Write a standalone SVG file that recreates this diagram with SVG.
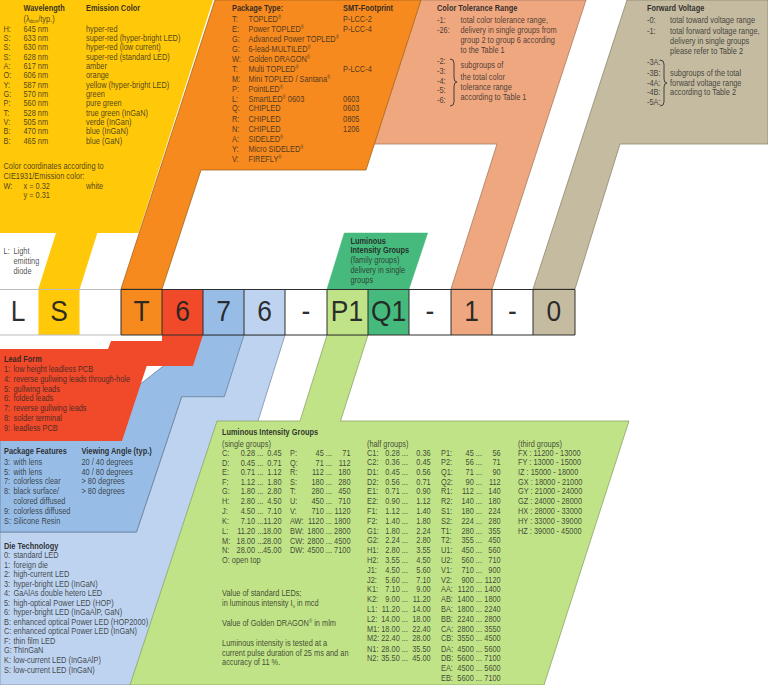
<svg xmlns="http://www.w3.org/2000/svg" width="768" height="685" viewBox="0 0 768 685">
<style>
text{font-family:"Liberation Sans",Arial,sans-serif;font-size:8.4px;fill:#222;fill-opacity:.8}
.b{font-weight:bold;fill-opacity:.92}
.e{text-anchor:end}
.s{font-size:5px}
.big{font-size:30px;text-anchor:middle;fill-opacity:.95}
.p{stroke-width:.8}
.br{fill:none;stroke:#333;stroke-width:.9}
.cell{stroke:#2e2e2e;stroke-width:1}
</style>
<rect width="768" height="685" fill="#fff"/>
<g id="lightblue-die-technology">
<polygon class="p" points="244,335 285,335 258,421 130,685 0,685 0,532 136.5,532 181.7,396.7" fill="#bdd3ef" stroke="#7f8fa5"/>
<g transform="scale(.88 1)">
<text class="b" x="4.5" y="549">Die Technology</text>
<text y="558.5"><tspan x="4.5">0:</tspan><tspan x="15.3">standard LED</tspan></text>
<text y="568.5"><tspan x="4.5">1:</tspan><tspan x="15.3">foreign die</tspan></text>
<text y="577.5"><tspan x="4.5">2:</tspan><tspan x="15.3">high-current LED</tspan></text>
<text y="587"><tspan x="4.5">3:</tspan><tspan x="15.3">hyper-bright LED (InGaN)</tspan></text>
<text y="596.5"><tspan x="4.5">4:</tspan><tspan x="15.3">GaAlAs double hetero LED</tspan></text>
<text y="606"><tspan x="4.5">5:</tspan><tspan x="15.3">high-optical Power LED (HOP)</tspan></text>
<text y="615"><tspan x="4.5">6:</tspan><tspan x="15.3">hyper-bright LED (InGaAlP, GaN)</tspan></text>
<text y="625"><tspan x="4.5">B:</tspan><tspan x="15.3">enhanced optical Power LED (HOP2000)</tspan></text>
<text y="634"><tspan x="4.5">C:</tspan><tspan x="15.3">enhanced optical Power LED (InGaN)</tspan></text>
<text y="644"><tspan x="4.5">F:</tspan><tspan x="15.3">thin film LED</tspan></text>
<text y="653.5"><tspan x="4.5">G:</tspan><tspan x="15.3">ThInGaN</tspan></text>
<text y="663"><tspan x="4.5">K:</tspan><tspan x="15.3">low-current LED (InGaAlP)</tspan></text>
<text y="673"><tspan x="4.5">S:</tspan><tspan x="15.3">low-current LED (InGaN)</tspan></text>
</g>
</g>
<g id="blue-package-features">
<polygon class="p" points="203,335 244,335 224.3,396.7 181.7,396.7 136.5,532 0,532 0,400 120,400" fill="#97bde7" stroke="#66809c"/>
<g transform="scale(.88 1)">
<text class="b" x="4.5" y="454">Package Features</text>
<text class="b" x="92.6" y="454">Viewing Angle (typ.)</text>
<text y="465"><tspan x="4.5">3:</tspan><tspan x="15.3">with lens</tspan><tspan x="92.6">20 / 40 degrees</tspan></text>
<text y="475"><tspan x="4.5">5:</tspan><tspan x="15.3">with lens</tspan><tspan x="92.6">40 / 80 degrees</tspan></text>
<text y="484"><tspan x="4.5">7:</tspan><tspan x="15.3">colorless clear</tspan><tspan x="92.6">&gt; 80 degrees</tspan></text>
<text y="494"><tspan x="4.5">8:</tspan><tspan x="15.3">black surface/</tspan><tspan x="92.6">&gt; 80 degrees</tspan></text>
<text x="15.3" y="504">colored diffused</text>
<text y="514"><tspan x="4.5">9:</tspan><tspan x="15.3">colorless diffused</tspan></text>
<text y="524"><tspan x="4.5">S:</tspan><tspan x="15.3">Silicone Resin</tspan></text>
</g>
</g>
<g id="red-lead-form">
<polygon class="p" points="162,335 203,335 193,366 146.7,366 122,441 0,441 0,349 108,349 111,341 162,341" fill="#f04a2a"/>
<g transform="scale(.88 1)">
<text class="b" x="4.5" y="362">Lead Form</text>
<text y="372"><tspan x="4.5">1:</tspan><tspan x="15.3">low height leadless PCB</tspan></text>
<text y="382"><tspan x="4.5">4:</tspan><tspan x="15.3">reverse gullwing leads through-hole</tspan></text>
<text y="392"><tspan x="4.5">5:</tspan><tspan x="15.3">gullwing leads</tspan></text>
<text y="401.5"><tspan x="4.5">6:</tspan><tspan x="15.3">folded leads</tspan></text>
<text y="411.5"><tspan x="4.5">7:</tspan><tspan x="15.3">reverse gullwing leads</tspan></text>
<text y="421"><tspan x="4.5">8:</tspan><tspan x="15.3">solder terminal</tspan></text>
<text y="431"><tspan x="4.5">9:</tspan><tspan x="15.3">leadless PCB</tspan></text>
</g>
</g>
<g id="green-luminous-intensity">
<polygon class="p" points="327,335 368,335 340.5,421 629,421 544,685 130,685 217,421 300,421" fill="#bfe386" stroke="#8da56a"/>
<g transform="scale(.88 1)">
<text class="b" x="252.3" y="435">Luminous Intensity Groups</text>
<text x="252.3" y="447">(single groups)</text>
<text y="456.5"><tspan x="252.3">C:</tspan><tspan class="e" x="299.2">0.28 ...</tspan><tspan class="e" x="319.9">0.45</tspan><tspan x="329.5">P:</tspan><tspan class="e" x="377.3">45 ...</tspan><tspan class="e" x="398.3">71</tspan></text>
<text y="466"><tspan x="252.3">D:</tspan><tspan class="e" x="299.2">0.45 ...</tspan><tspan class="e" x="319.9">0.71</tspan><tspan x="329.5">Q:</tspan><tspan class="e" x="377.3">71 ...</tspan><tspan class="e" x="398.3">112</tspan></text>
<text y="475"><tspan x="252.3">E:</tspan><tspan class="e" x="299.2">0.71 ...</tspan><tspan class="e" x="319.9">1.12</tspan><tspan x="329.5">R:</tspan><tspan class="e" x="377.3">112 ...</tspan><tspan class="e" x="398.3">180</tspan></text>
<text y="485"><tspan x="252.3">F:</tspan><tspan class="e" x="299.2">1.12 ...</tspan><tspan class="e" x="319.9">1.80</tspan><tspan x="329.5">S:</tspan><tspan class="e" x="377.3">180 ...</tspan><tspan class="e" x="398.3">280</tspan></text>
<text y="494.5"><tspan x="252.3">G:</tspan><tspan class="e" x="299.2">1.80 ...</tspan><tspan class="e" x="319.9">2.80</tspan><tspan x="329.5">T:</tspan><tspan class="e" x="377.3">280 ...</tspan><tspan class="e" x="398.3">450</tspan></text>
<text y="504"><tspan x="252.3">H:</tspan><tspan class="e" x="299.2">2.80 ...</tspan><tspan class="e" x="319.9">4.50</tspan><tspan x="329.5">U:</tspan><tspan class="e" x="377.3">450 ...</tspan><tspan class="e" x="398.3">710</tspan></text>
<text y="514"><tspan x="252.3">J:</tspan><tspan class="e" x="299.2">4.50 ...</tspan><tspan class="e" x="319.9">7.10</tspan><tspan x="329.5">V:</tspan><tspan class="e" x="377.3">710 ...</tspan><tspan class="e" x="398.3">1120</tspan></text>
<text y="524"><tspan x="252.3">K:</tspan><tspan class="e" x="299.2">7.10 ...</tspan><tspan class="e" x="319.9">11.20</tspan><tspan x="329.5">AW:</tspan><tspan class="e" x="377.3">1120 ...</tspan><tspan class="e" x="398.3">1800</tspan></text>
<text y="534"><tspan x="252.3">L:</tspan><tspan class="e" x="299.2">11.20 ...</tspan><tspan class="e" x="319.9">18.00</tspan><tspan x="329.5">BW:</tspan><tspan class="e" x="377.3">1800 ...</tspan><tspan class="e" x="398.3">2800</tspan></text>
<text y="544"><tspan x="252.3">M:</tspan><tspan class="e" x="299.2">18.00 ...</tspan><tspan class="e" x="319.9">28.00</tspan><tspan x="329.5">CW:</tspan><tspan class="e" x="377.3">2800 ...</tspan><tspan class="e" x="398.3">4500</tspan></text>
<text y="553.5"><tspan x="252.3">N:</tspan><tspan class="e" x="299.2">28.00 ...</tspan><tspan class="e" x="319.9">45.00</tspan><tspan x="329.5">DW:</tspan><tspan class="e" x="377.3">4500 ...</tspan><tspan class="e" x="398.3">7100</tspan></text>
<text x="252.3" y="563.5">O: open top</text>
<text x="252.3" y="596.5">Value of standard LEDs;</text>
<text x="252.3" y="606.5">in luminous intensity I<tspan class="s" dy="1.5">v</tspan><tspan dy="-1.5"> in mcd</tspan></text>
<text x="252.3" y="626">Value of Golden DRAGON<tspan class="s" dy="-2.5">®</tspan><tspan dy="2.5"> in mlm</tspan></text>
<text x="252.3" y="646">Luminous intensity is tested at a</text>
<text x="252.3" y="656">current pulse duration of 25 ms and an</text>
<text x="252.3" y="665.5">accuracy of 11 %.</text>
<text x="417" y="447">(half groups)</text>
<text y="456"><tspan x="417">C1:</tspan><tspan class="e" x="463.6">0.28 ...</tspan><tspan class="e" x="489.4">0.36</tspan><tspan x="501.1">P1:</tspan><tspan class="e" x="547.7">45 ...</tspan><tspan class="e" x="569">56</tspan></text>
<text y="465.5"><tspan x="417">C2:</tspan><tspan class="e" x="463.6">0.36 ...</tspan><tspan class="e" x="489.4">0.45</tspan><tspan x="501.1">P2:</tspan><tspan class="e" x="547.7">56 ...</tspan><tspan class="e" x="569">71</tspan></text>
<text y="475"><tspan x="417">D1:</tspan><tspan class="e" x="463.6">0.45 ...</tspan><tspan class="e" x="489.4">0.56</tspan><tspan x="501.1">Q1:</tspan><tspan class="e" x="547.7">71 ...</tspan><tspan class="e" x="569">90</tspan></text>
<text y="485"><tspan x="417">D2:</tspan><tspan class="e" x="463.6">0.56 ...</tspan><tspan class="e" x="489.4">0.71</tspan><tspan x="501.1">Q2:</tspan><tspan class="e" x="547.7">90 ...</tspan><tspan class="e" x="569">112</tspan></text>
<text y="494.5"><tspan x="417">E1:</tspan><tspan class="e" x="463.6">0.71 ...</tspan><tspan class="e" x="489.4">0.90</tspan><tspan x="501.1">R1:</tspan><tspan class="e" x="547.7">112 ...</tspan><tspan class="e" x="569">140</tspan></text>
<text y="504"><tspan x="417">E2:</tspan><tspan class="e" x="463.6">0.90 ...</tspan><tspan class="e" x="489.4">1.12</tspan><tspan x="501.1">R2:</tspan><tspan class="e" x="547.7">140 ...</tspan><tspan class="e" x="569">180</tspan></text>
<text y="514"><tspan x="417">F1:</tspan><tspan class="e" x="463.6">1.12 ...</tspan><tspan class="e" x="489.4">1.40</tspan><tspan x="501.1">S1:</tspan><tspan class="e" x="547.7">180 ...</tspan><tspan class="e" x="569">224</tspan></text>
<text y="524"><tspan x="417">F2:</tspan><tspan class="e" x="463.6">1.40 ...</tspan><tspan class="e" x="489.4">1.80</tspan><tspan x="501.1">S2:</tspan><tspan class="e" x="547.7">224 ...</tspan><tspan class="e" x="569">280</tspan></text>
<text y="534"><tspan x="417">G1:</tspan><tspan class="e" x="463.6">1.80 ...</tspan><tspan class="e" x="489.4">2.24</tspan><tspan x="501.1">T1:</tspan><tspan class="e" x="547.7">280 ...</tspan><tspan class="e" x="569">355</tspan></text>
<text y="543"><tspan x="417">G2:</tspan><tspan class="e" x="463.6">2.24 ...</tspan><tspan class="e" x="489.4">2.80</tspan><tspan x="501.1">T2:</tspan><tspan class="e" x="547.7">355 ...</tspan><tspan class="e" x="569">450</tspan></text>
<text y="553.5"><tspan x="417">H1:</tspan><tspan class="e" x="463.6">2.80 ...</tspan><tspan class="e" x="489.4">3.55</tspan><tspan x="501.1">U1:</tspan><tspan class="e" x="547.7">450 ...</tspan><tspan class="e" x="569">560</tspan></text>
<text y="563"><tspan x="417">H2:</tspan><tspan class="e" x="463.6">3.55 ...</tspan><tspan class="e" x="489.4">4.50</tspan><tspan x="501.1">U2:</tspan><tspan class="e" x="547.7">560 ...</tspan><tspan class="e" x="569">710</tspan></text>
<text y="573"><tspan x="417">J1:</tspan><tspan class="e" x="463.6">4.50 ...</tspan><tspan class="e" x="489.4">5.60</tspan><tspan x="501.1">V1:</tspan><tspan class="e" x="547.7">710 ...</tspan><tspan class="e" x="569">900</tspan></text>
<text y="583"><tspan x="417">J2:</tspan><tspan class="e" x="463.6">5.60 ...</tspan><tspan class="e" x="489.4">7.10</tspan><tspan x="501.1">V2:</tspan><tspan class="e" x="547.7">900 ...</tspan><tspan class="e" x="569">1120</tspan></text>
<text y="592.5"><tspan x="417">K1:</tspan><tspan class="e" x="463.6">7.10 ...</tspan><tspan class="e" x="489.4">9.00</tspan><tspan x="501.1">AA:</tspan><tspan class="e" x="547.7">1120 ...</tspan><tspan class="e" x="569">1400</tspan></text>
<text y="602.5"><tspan x="417">K2:</tspan><tspan class="e" x="463.6">9.00 ...</tspan><tspan class="e" x="489.4">11.20</tspan><tspan x="501.1">AB:</tspan><tspan class="e" x="547.7">1400 ...</tspan><tspan class="e" x="569">1800</tspan></text>
<text y="612.5"><tspan x="417">L1:</tspan><tspan class="e" x="463.6">11.20 ...</tspan><tspan class="e" x="489.4">14.00</tspan><tspan x="501.1">BA:</tspan><tspan class="e" x="547.7">1800 ...</tspan><tspan class="e" x="569">2240</tspan></text>
<text y="622"><tspan x="417">L2:</tspan><tspan class="e" x="463.6">14.00 ...</tspan><tspan class="e" x="489.4">18.00</tspan><tspan x="501.1">BB:</tspan><tspan class="e" x="547.7">2240 ...</tspan><tspan class="e" x="569">2800</tspan></text>
<text y="632"><tspan x="417">M1:</tspan><tspan class="e" x="463.6">18.00 ...</tspan><tspan class="e" x="489.4">22.40</tspan><tspan x="501.1">CA:</tspan><tspan class="e" x="547.7">2800 ...</tspan><tspan class="e" x="569">3550</tspan></text>
<text y="641.5"><tspan x="417">M2:</tspan><tspan class="e" x="463.6">22.40 ...</tspan><tspan class="e" x="489.4">28.00</tspan><tspan x="501.1">CB:</tspan><tspan class="e" x="547.7">3550 ...</tspan><tspan class="e" x="569">4500</tspan></text>
<text y="652"><tspan x="417">N1:</tspan><tspan class="e" x="463.6">28.00 ...</tspan><tspan class="e" x="489.4">35.50</tspan><tspan x="501.1">DA:</tspan><tspan class="e" x="547.7">4500 ...</tspan><tspan class="e" x="569">5600</tspan></text>
<text y="661"><tspan x="417">N2:</tspan><tspan class="e" x="463.6">35.50 ...</tspan><tspan class="e" x="489.4">45.00</tspan><tspan x="501.1">DB:</tspan><tspan class="e" x="547.7">5600 ...</tspan><tspan class="e" x="569">7100</tspan></text>
<text y="671"><tspan x="501.1">EA:</tspan><tspan class="e" x="547.7">4500 ...</tspan><tspan class="e" x="569">5600</tspan></text>
<text y="681"><tspan x="501.1">EB:</tspan><tspan class="e" x="547.7">5600 ...</tspan><tspan class="e" x="569">7100</tspan></text>
<text x="588.6" y="447">(third groups)</text>
<text x="588.6" y="456">FX : 11200 - 13000</text>
<text x="588.6" y="465.5">FY : 13000 - 15000</text>
<text x="588.6" y="475">IZ  : 15000 - 18000</text>
<text x="588.6" y="485">GX : 18000 - 21000</text>
<text x="588.6" y="494.5">GY : 21000 - 24000</text>
<text x="588.6" y="504">GZ : 24000 - 28000</text>
<text x="588.6" y="514">HX : 28000 - 33000</text>
<text x="588.6" y="524">HY : 33000 - 39000</text>
<text x="588.6" y="534">HZ : 39000 - 45000</text>
</g>
</g>
<g id="tan-forward-voltage">
<polygon class="p" points="627,0 768,0 768,144 620,144 575,289 533,289" fill="#c4bba0" stroke="#8f886f"/>
<g transform="scale(.88 1)">
<text class="b" x="735.2" y="11">Forward Voltage</text>
<text y="23"><tspan x="735.2">-0:</tspan><tspan x="761.4">total toward voltage range</tspan></text>
<text y="34"><tspan x="735.2">-1:</tspan><tspan x="761.4">total forward voltage range,</tspan></text>
<text x="761.4" y="44">delivery in single groups</text>
<text x="761.4" y="54">please refer to Table 2</text>
<text x="735.2" y="65.5">-3A:</text>
<text y="76"><tspan x="735.2">-3B:</tspan><tspan x="761.4">subgroups of the total</tspan></text>
<text y="86"><tspan x="735.2">-4A:</tspan><tspan x="761.4">forward voltage range</tspan></text>
<text y="95.5"><tspan x="735.2">-4B:</tspan><tspan x="761.4">according to Table 2</tspan></text>
<text x="735.2" y="105.5">-5A:</text>
</g>
<path class="br" d="M660,60 Q664,60 664,64 V79 Q664,83 667,83 Q664,83 664,87 V102 Q664,106 660,106"/>
</g>
<g id="salmon-color-tolerance">
<polygon class="p" points="400,0 586,0 492,289 451,289 497,144 370,144" fill="#efa77f" stroke="#a87a5f"/>
<g transform="scale(.88 1)">
<text class="b" x="496.6" y="11">Color Tolerance Range</text>
<text y="23"><tspan x="496.6">-1:</tspan><tspan x="523.3">total color tolerance range,</tspan></text>
<text y="33"><tspan x="496.6">-26:</tspan><tspan x="523.3">delivery in single groups from</tspan></text>
<text x="523.3" y="43">group 2 to group 6 according</text>
<text x="523.3" y="53">to the Table 1</text>
<text x="496.6" y="64">-2:</text>
<text x="496.6" y="74">-3:</text>
<text x="496.6" y="84">-4:</text>
<text x="496.6" y="93">-5:</text>
<text x="496.6" y="103">-6:</text>
<text x="523.3" y="68">subgroups of</text>
<text x="523.3" y="80">the total color</text>
<text x="523.3" y="90">tolerance range</text>
<text x="523.3" y="100">according to Table 1</text>
</g>
<path class="br" d="M450,59 Q454,59 454,63 V78 Q454,82 457,82 Q454,82 454,86 V102 Q454,106 450,106"/>
</g>
<g id="yellow-wavelength">
<polygon points="0,0 213,0 138.5,233 97.3,233 79.7,289 38.3,289 56,233 0,233" fill="#ffc808"/>
<g transform="scale(.88 1)">
<text class="b" x="26.7" y="11">Wavelength</text>
<text class="b" x="97.7" y="11">Emission Color</text>
<text x="26.7" y="22">(λ<tspan class="s" dy="1.5">dom</tspan><tspan dy="-1.5">/typ.)</tspan></text>
<text y="32"><tspan x="4">H:</tspan><tspan x="26.7">645 nm</tspan><tspan x="97.7">hyper-red</tspan></text>
<text y="41.5"><tspan x="4">S:</tspan><tspan x="26.7">633 nm</tspan><tspan x="97.7">super-red (hyper-bright LED)</tspan></text>
<text y="50.5"><tspan x="4">S:</tspan><tspan x="26.7">630 nm</tspan><tspan x="97.7">hyper-red (low current)</tspan></text>
<text y="60"><tspan x="4">S:</tspan><tspan x="26.7">628 nm</tspan><tspan x="97.7">super-red (standard LED)</tspan></text>
<text y="69"><tspan x="4">A:</tspan><tspan x="26.7">617 nm</tspan><tspan x="97.7">amber</tspan></text>
<text y="78.5"><tspan x="4">O:</tspan><tspan x="26.7">606 nm</tspan><tspan x="97.7">orange</tspan></text>
<text y="88"><tspan x="4">Y:</tspan><tspan x="26.7">587 nm</tspan><tspan x="97.7">yellow (hyper-bright LED)</tspan></text>
<text y="97"><tspan x="4">G:</tspan><tspan x="26.7">570 nm</tspan><tspan x="97.7">green</tspan></text>
<text y="106"><tspan x="4">P:</tspan><tspan x="26.7">560 nm</tspan><tspan x="97.7">pure green</tspan></text>
<text y="116"><tspan x="4">T:</tspan><tspan x="26.7">528 nm</tspan><tspan x="97.7">true green (InGaN)</tspan></text>
<text y="125"><tspan x="4">V:</tspan><tspan x="26.7">505 nm</tspan><tspan x="97.7">verde (InGan)</tspan></text>
<text y="134"><tspan x="4">B:</tspan><tspan x="26.7">470 nm</tspan><tspan x="97.7">blue (InGaN)</tspan></text>
<text y="144"><tspan x="4">B:</tspan><tspan x="26.7">465 nm</tspan><tspan x="97.7">blue (GaN)</tspan></text>
<text x="4" y="169">Color coordinates according to</text>
<text x="4" y="179">CIE1931/Emission color:</text>
<text y="189"><tspan x="4">W:</tspan><tspan x="26.7">x = 0.32</tspan><tspan x="97.7">white</tspan></text>
<text x="26.7" y="198">y = 0.31</text>
</g>
</g>
<g id="orange-package-type">
<polygon class="p" points="215,0 421,0 366,170 201,170 162,289 121,289" fill="#f68a1e" stroke="#a5641f"/>
<g transform="scale(.88 1)">
<text class="b" x="263.6" y="11">Package Type:</text>
<text class="b" x="389.8" y="11">SMT-Footprint</text>
<text y="22"><tspan x="263.6">T:</tspan><tspan x="282.4">TOPLED<tspan class="s" dy="-2.5">®</tspan></tspan><tspan x="389.8" dy="2.5">P-LCC-2</tspan></text>
<text y="32"><tspan x="263.6">E:</tspan><tspan x="282.4">Power TOPLED<tspan class="s" dy="-2.5">®</tspan></tspan><tspan x="389.8" dy="2.5">P-LCC-4</tspan></text>
<text y="42"><tspan x="263.6">G:</tspan><tspan x="282.4">Advanced Power TOPLED<tspan class="s" dy="-2.5">®</tspan></tspan></text>
<text y="52"><tspan x="263.6">G:</tspan><tspan x="282.4">6-lead-MULTILED<tspan class="s" dy="-2.5">®</tspan></tspan></text>
<text y="62"><tspan x="263.6">W:</tspan><tspan x="282.4">Golden DRAGON<tspan class="s" dy="-2.5">®</tspan></tspan></text>
<text y="72"><tspan x="263.6">T:</tspan><tspan x="282.4">Multi TOPLED<tspan class="s" dy="-2.5">®</tspan></tspan><tspan x="389.8" dy="2.5">P-LCC-4</tspan></text>
<text y="82"><tspan x="263.6">M:</tspan><tspan x="282.4">Mini TOPLED / Santana<tspan class="s" dy="-2.5">®</tspan></tspan></text>
<text y="92"><tspan x="263.6">P:</tspan><tspan x="282.4">PointLED<tspan class="s" dy="-2.5">®</tspan></tspan></text>
<text y="102"><tspan x="263.6">L:</tspan><tspan x="282.4">SmartLED<tspan class="s" dy="-2.5">®</tspan><tspan dy="2.5"> 0603</tspan></tspan><tspan x="389.8">0603</tspan></text>
<text y="111.5"><tspan x="263.6">Q:</tspan><tspan x="282.4">CHIPLED</tspan><tspan x="389.8">0603</tspan></text>
<text y="122"><tspan x="263.6">R:</tspan><tspan x="282.4">CHIPLED</tspan><tspan x="389.8">0805</tspan></text>
<text y="132"><tspan x="263.6">N:</tspan><tspan x="282.4">CHIPLED</tspan><tspan x="389.8">1206</tspan></text>
<text y="142"><tspan x="263.6">A:</tspan><tspan x="282.4">SIDELED<tspan class="s" dy="-2.5">®</tspan></tspan></text>
<text y="152"><tspan x="263.6">Y:</tspan><tspan x="282.4">Micro SIDELED<tspan class="s" dy="-2.5">®</tspan></tspan></text>
<text y="162"><tspan x="263.6">V:</tspan><tspan x="282.4">FIREFLY<tspan class="s" dy="-2.5">®</tspan></tspan></text>
</g>
</g>
<g id="teal-luminous-family">
<polygon points="344.3,233 427.7,233 409,289 327,289" fill="#46b97c" stroke="#46b97c" stroke-width=".5"/>
<g transform="scale(.88 1)">
<text class="b" x="398.3" y="244">Luminous</text>
<text class="b" x="398.3" y="253.5">Intensity Groups</text>
<text x="398.3" y="263.5">(family groups)</text>
<text x="398.3" y="273">delivery in single</text>
<text x="398.3" y="283">groups</text>
</g>
</g>
<g id="light-emitting-diode" transform="scale(.88 1)">
<text y="254"><tspan x="4">L:</tspan><tspan x="15.3">Light</tspan></text>
<text x="15.3" y="264">emitting</text>
<text x="15.3" y="274">diode</text>
</g>
<g id="code-row">
<rect x="38.5" y="289.5" width="41" height="45.5" fill="#ffc808"/>
<rect x="121" y="289.5" width="41" height="45.5" fill="#f68a1e"/>
<rect x="162" y="289.5" width="41" height="45.5" fill="#f04a2a"/>
<rect x="203" y="289.5" width="41" height="45.5" fill="#97bde7"/>
<rect x="244" y="289.5" width="41" height="45.5" fill="#bdd3ef"/>
<rect x="327" y="289.5" width="41" height="45.5" fill="#bfe386"/>
<rect x="368" y="289.5" width="41" height="45.5" fill="#46b97c"/>
<rect x="451" y="289.5" width="41" height="45.5" fill="#efa77f"/>
<rect x="533" y="289.5" width="42" height="45.5" fill="#c4bba0"/>
<path d="M0,289.5H121M0,335H121" fill="none" stroke="#bbb" stroke-width="1"/>
<path class="cell" fill="none" d="M121,289.5H575V335H121ZM162,289.5V335M203,289.5V335M244,289.5V335M285,289.5V335M327,289.5V335M368,289.5V335M409,289.5V335M451,289.5V335M492,289.5V335M533,289.5V335"/>
<g transform="scale(.88 1)">
<text class="big" x="20.5" y="321.5">L</text>
<text class="big" x="67" y="321.5">S</text>
<text class="big" x="160.8" y="321.5">T</text>
<text class="big" x="207.4" y="321.5">6</text>
<text class="big" x="254" y="321.5">7</text>
<text class="big" x="300.6" y="321.5">6</text>
<text class="big" x="347.7" y="321.5">-</text>
<text class="big" x="394.3" y="321.5">P1</text>
<text class="big" x="441.5" y="321.5">Q1</text>
<text class="big" x="488.6" y="321.5">-</text>
<text class="big" x="535.8" y="321.5">1</text>
<text class="big" x="582.4" y="321.5">-</text>
<text class="big" x="629.5" y="321.5">0</text>
</g>
</g>
</svg>
